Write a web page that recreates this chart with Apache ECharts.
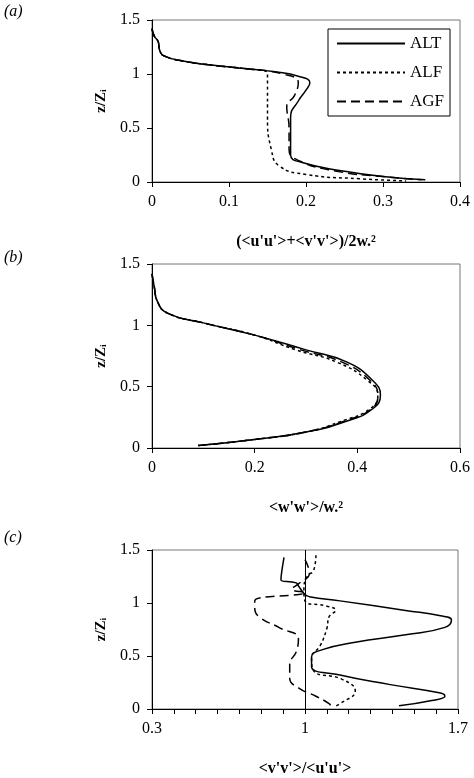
<!DOCTYPE html>
<html>
<head>
<meta charset="utf-8">
<script src="https://cdn.jsdelivr.net/npm/echarts@6/dist/echarts.min.js"></script>
<style>html,body{margin:0;padding:0;background:#fff}#main{width:474px;height:778px}</style>
</head>
<body>
<div id="main"></div>
<script>
// panel (a): (<u'u'>+<v'v'>)/2w*^2 vs z/Zi
const aALT = [[0,1.42],[0.003,1.35],[0.008,1.3],[0.01,1.22],[0.015,1.17],[0.04,1.12],[0.08,1.08],[0.12,1.05],[0.16,1.02],[0.19,0.98],[0.205,0.92],[0.2,0.85],[0.19,0.75],[0.18,0.6],[0.18,0.4],[0.18,0.25],[0.195,0.18],[0.25,0.1],[0.3,0.05],[0.355,0.02]];
const aALF = [[0,1.42],[0.003,1.35],[0.008,1.3],[0.01,1.22],[0.015,1.17],[0.04,1.12],[0.08,1.08],[0.12,1.05],[0.15,1.0],[0.15,0.9],[0.15,0.6],[0.155,0.3],[0.165,0.15],[0.2,0.07],[0.27,0.03],[0.33,0.01]];
const aAGF = [[0,1.42],[0.003,1.35],[0.008,1.3],[0.01,1.22],[0.015,1.17],[0.04,1.12],[0.08,1.08],[0.12,1.05],[0.17,1.0],[0.19,0.92],[0.185,0.8],[0.175,0.7],[0.178,0.5],[0.178,0.3],[0.19,0.2],[0.24,0.1],[0.3,0.05],[0.35,0.02]];
// panel (b): <w'w'>/w*^2
const bALT = [[0,1.42],[0.005,1.3],[0.01,1.2],[0.03,1.1],[0.1,1.02],[0.2,0.92],[0.3,0.8],[0.38,0.7],[0.43,0.55],[0.445,0.43],[0.43,0.32],[0.38,0.22],[0.3,0.13],[0.2,0.07],[0.09,0.02]];
const bALF = [[0,1.42],[0.005,1.3],[0.01,1.2],[0.03,1.1],[0.1,1.02],[0.2,0.92],[0.28,0.8],[0.36,0.7],[0.42,0.55],[0.44,0.43],[0.425,0.32],[0.37,0.22],[0.3,0.13],[0.2,0.07],[0.09,0.02]];
const bAGF = [[0,1.42],[0.005,1.3],[0.01,1.2],[0.03,1.1],[0.1,1.02],[0.2,0.92],[0.29,0.8],[0.37,0.7],[0.425,0.55],[0.44,0.43],[0.428,0.32],[0.375,0.22],[0.3,0.13],[0.2,0.07],[0.09,0.02]];
// panel (c): <v'v'>/<u'u'>
const cALT = [[0.904,1.43],[0.89,1.22],[0.96,1.19],[0.97,1.16],[1.0,1.08],[1.02,1.06],[1.16,1.02],[1.46,0.93],[1.62,0.88],[1.67,0.84],[1.64,0.77],[1.46,0.7],[1.23,0.63],[1.08,0.56],[1.03,0.49],[1.03,0.4],[1.16,0.32],[1.39,0.23],[1.62,0.15],[1.64,0.12],[1.58,0.08],[1.43,0.03]];
const cALF = [[1.05,1.45],[1.04,1.31],[1.01,1.25],[0.995,1.13],[1.0,1.02],[1.1,0.97],[1.14,0.93],[1.11,0.87],[1.1,0.76],[1.07,0.6],[1.03,0.48],[1.04,0.36],[1.17,0.28],[1.23,0.17],[1.16,0.05],[1.13,0.02]];
const cAGF = [[1.0,1.41],[1.02,1.28],[0.97,1.18],[0.94,1.13],[1.0,1.1],[0.77,1.02],[0.77,0.96],[0.79,0.87],[0.88,0.77],[0.97,0.66],[0.96,0.54],[0.93,0.42],[0.93,0.29],[0.97,0.2],[1.05,0.12],[1.11,0.05],[1.12,0.02]];
const yTicks = [0, 0.5, 1, 1.5];
const cLabels = [0.3, 1, 1.7];

const font = 'Liberation Serif';
const chart = echarts.init(document.getElementById('main'));

function xAx(idx, min, max, interval, name, fmt) {
	return {
		type: 'value', gridIndex: idx, min: min, max: max, interval: interval,
		name: name, nameLocation: 'middle', nameGap: 52,
		nameTextStyle: { fontFamily: font, fontWeight: 'bold', fontSize: 16, color: '#000' },
		axisLine: { lineStyle: { color: '#000' } },
		axisTick: { lineStyle: { color: '#000' } },
		splitLine: { show: false },
		axisLabel: { fontFamily: font, fontSize: 16, color: '#000', margin: 12, formatter: fmt }
	};
}
function yAx(idx) {
	return {
		type: 'value', gridIndex: idx, min: 0, max: 1.5, interval: 0.5,
		name: 'z/Zᵢ', nameLocation: 'middle', nameGap: 34, nameRotate: 90,
		nameTextStyle: { fontFamily: font, fontWeight: 'bold', fontSize: 15, color: '#000' },
		axisLine: { show: true, lineStyle: { color: '#000' } },
		axisTick: { show: true, lineStyle: { color: '#000' } },
		splitLine: { show: false },
		axisLabel: { fontFamily: font, fontSize: 16, color: '#000', margin: 12,
			formatter: v => yTicks.includes(v) ? String(v) : '' }
	};
}
function ser(name, data, type, idx) {
	return {
		name: name, type: 'line', xAxisIndex: idx, yAxisIndex: idx, data: data,
		showSymbol: false, symbol: 'none', smooth: true, animation: false,
		color: '#000', itemStyle: { color: '#000' },
		lineStyle: { color: '#000', width: 1.5, type: type === 'solid' ? 'solid' : (type === 'dot' ? [3, 3] : [9, 5]) }
	};
}

const grid = (top, h, right) => ({ left: 152, width: (right || 460) - 152, top: top, height: h, show: true, borderColor: '#777', borderWidth: 1 });

chart.setOption({
	animation: false,
	grid: [grid(20, 162), grid(264, 184), grid(550, 162, 458)],
	xAxis: [
		xAx(0, 0, 0.4, 0.1, '(<u\'u\'>+<v\'v\'>)/2w.²'),
		xAx(1, 0, 0.6, 0.2, '<w\'w\'>/w.²'),
		xAx(2, 0.3, 1.7, 0.1, '<v\'v\'>/<u\'u\'>', v => cLabels.some(c => Math.abs(c - v) < 1e-6) ? String(+v.toFixed(1)) : '')
	],
	yAxis: [yAx(0), yAx(1), yAx(2)],
	legend: {
		data: ['ALT', 'ALF', 'AGF'], orient: 'vertical', left: 328, top: 29,
		itemWidth: 68, itemHeight: 10, itemGap: 12, padding: [6, 6, 6, 8],
		itemStyle: { opacity: 0 },
		borderColor: '#000', borderWidth: 1, backgroundColor: '#fff',
		textStyle: { fontFamily: font, fontSize: 17, color: '#000' }
	},
	series: [
		ser('ALT', aALT, 'solid', 0), ser('ALF', aALF, 'dot', 0), ser('AGF', aAGF, 'dash', 0),
		ser('ALT', bALT, 'solid', 1), ser('ALF', bALF, 'dot', 1), ser('AGF', bAGF, 'dash', 1),
		ser('ALT', cALT, 'solid', 2), ser('ALF', cALF, 'dot', 2), ser('AGF', cAGF, 'dash', 2),
		{
			type: 'line', xAxisIndex: 2, yAxisIndex: 2, data: [], silent: true,
			markLine: { symbol: 'none', silent: true, label: { show: false },
				lineStyle: { color: '#000', width: 1, type: 'solid' }, data: [{ xAxis: 1 }] }
		}
	],
	graphic: [
		{ type: 'text', left: 4, top: 4, style: { text: '(a)', fontFamily: font, fontStyle: 'italic', fontSize: 16, fill: '#000' } },
		{ type: 'text', left: 4, top: 250, style: { text: '(b)', fontFamily: font, fontStyle: 'italic', fontSize: 16, fill: '#000' } },
		{ type: 'text', left: 4, top: 530, style: { text: '(c)', fontFamily: font, fontStyle: 'italic', fontSize: 16, fill: '#000' } }
	]
});
</script>
</body>
</html>
